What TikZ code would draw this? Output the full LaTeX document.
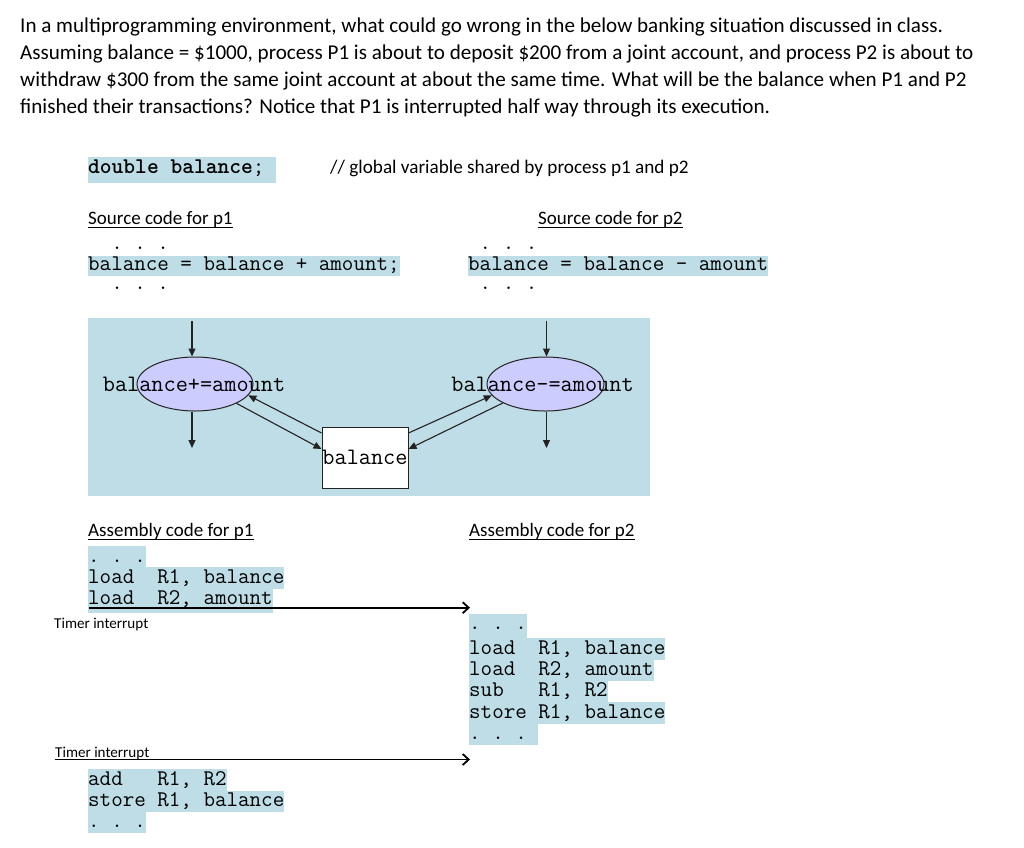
\documentclass[tikz,border=0pt]{standalone}
\usepackage{fontspec}
\setmainfont{Carlito}
\usetikzlibrary{arrows.meta,shapes.geometric}
\definecolor{hl}{RGB}{190,221,231}
\definecolor{lav}{RGB}{204,204,255}
\definecolor{ink}{RGB}{35,35,35}
\newcommand\ulx[1]{\setbox0=\hbox{#1}\rlap{\rule[-4pt]{\wd0}{1pt}}\box0}
\begin{document}
\begin{tikzpicture}[x=1pt,y=-1pt,
  hdr/.style={anchor=base west,inner sep=0pt,font=\fontsize{21.1}{27}\selectfont},
  lbl/.style={anchor=base west,inner sep=0pt,font=\fontsize{19}{22}\selectfont},
  tmr/.style={anchor=base west,inner sep=0pt,font=\fontsize{15.1}{17}\selectfont},
  code/.style={anchor=base west,inner sep=0pt,fill=hl,text height=16pt,text depth=5.3pt,font=\ttfamily\fontsize{22.4}{24}\selectfont\frenchspacing},
  plain/.style={anchor=base west,inner sep=0pt,font=\ttfamily\fontsize{22.4}{24}\selectfont\frenchspacing},
  dg/.style={inner sep=0pt,font=\ttfamily\fontsize{23.6}{25}\selectfont},
  ell/.style={ellipse,draw=ink,line width=1pt,fill=lav,inner sep=0pt},
  conn/.style={draw=ink,line width=1.1pt,-{Triangle[length=8pt,width=7pt]}},
  tarr/.style={draw=black,line width=1.8pt,-{Straight Barb[length=6pt,width=11pt]}}
]
\fill[white] (0,0) rectangle (1024,847);
\useasboundingbox (0,0) rectangle (1024,847);

% header
\node[hdr] (h1) at (20,32.5) {In a multiprogramming environment, what could go wrong in the below banking situation discussed in class.};
\node[hdr] (h2) at (20,59.5) {Assuming balance = \$1000, process P1 is about to deposit \$200 from a joint account, and process P2 is about to};
\node[hdr] (h3) at (20,86.5) {withdraw \$300 from the same joint account at about the same time. What will be the balance when P1 and P2};
\node[hdr] (h4) at (20,113.5) {finished their transactions? Notice that P1 is interrupted half way through its execution.};

% declaration
\node[code,text height=16pt,text depth=10pt] (dbl) at (88,173.3) {\textbf{double balance};\ \kern0pt};
\node[lbl,font=\fontsize{19.2}{22}\selectfont] (cmt) at (330,173.3) {// global variable shared by process p1 and p2};

% source code
\node[lbl] (src1) at (88,224) {\ulx{Source code for p1}};
\node[lbl] (src2) at (538,224) {\ulx{Source code for p2}};
\node[plain] (s1d1) at (88,249.5) {\ \ . . .};
\node[code,text height=14.7pt,text depth=5.3pt] (s1) at (88,270.7) {balance = balance + amount;};
\node[plain] (s1d2) at (88,289.5) {\ \ . . .};
\node[plain] (s2d1) at (468,249.5) {\ . . .};
\node[code,text height=14.7pt,text depth=5.3pt] (s2) at (468,270.7) {balance = balance – amount};
\node[plain] (s2d2) at (468,289.5) {\ . . .};

% diagram
\node[fill=hl,minimum width=562pt,minimum height=178pt,inner sep=0pt,anchor=north west] (panel) at (88,318) {};
\node[ell,minimum width=116pt,minimum height=54pt] (eL) at (195,384) {};
\node[ell,minimum width=117pt,minimum height=54pt] (eR) at (545.5,384) {};
\node[dg,anchor=base] (tL) at (194,391) {balance+=amount};
\node[dg,anchor=base] (tR) at (542.5,391) {balance-=amount};
\node[dg,draw=ink,line width=1pt,fill=white,minimum width=86pt,minimum height=61pt] (bal) at (365,457.5) {balance};

\coordinate (aL1) at (192,321);
\coordinate (aL2) at (192,448);
\coordinate (aR1) at (546.5,321);
\coordinate (aR2) at (546.5,448);
\draw[conn] (aL1) -- (aL1 |- eL.north);
\draw[conn] (aL1 |- eL.south) -- (aL2);
\draw[conn] (aR1) -- (aR1 |- eR.north);
\draw[conn] (aR1 |- eR.south) -- (aR2);
\draw[conn] (eL.-25) -- ([yshift=8.5pt]bal.west);
\draw[conn] ([yshift=24.5pt]bal.west) -- (eL.-12);
\draw[conn] ([yshift=24.5pt]bal.east) -- (eR.192);
\draw[conn] (eR.204) -- ([yshift=8.5pt]bal.east);

% assembly labels
\node[lbl] (asm1) at (88,536) {\ulx{Assembly code for p1}};
\node[lbl] (asm2) at (469,536) {\ulx{Assembly code for p2}};

% p1 assembly (first part)
\node[code] (a1d) at (88,562) {. . .};
\node[code] (a1r1) at (88,583.3) {load\ \ R1, balance};
\node[code,text depth=8pt] (a1r2) at (88,604.6) {load\ \ R2, amount};

% timer interrupt 1
\coordinate (t1s) at (89,607.7);
\coordinate (t1e) at (470,607.7);
\draw[tarr] (t1s) -- (t1e);
\node[tmr] (tm1) at (54,628.3) {Timer interrupt};

% p2 assembly
\node[code,text height=15.2pt,text depth=8.8pt] (a2d1) at (469,629.5) {. . .};
\node[code] (a2r1) at (469,654.3) {load\ \ R1, balance};
\node[code] (a2r2) at (469,675.6) {load\ \ R2, amount};
\node[code] (a2r3) at (469,696.9) {sub\ \ \ R1, R2};
\node[code] (a2r4) at (469,718.2) {store R1, balance};
\node[code] (a2d2) at (469,739.5) {. . .\ \kern0pt};

% timer interrupt 2
\coordinate (t2s) at (55,759.5);
\coordinate (t2e) at (470,759.5);
\draw[tarr] (t2s) -- (t2e);
\node[tmr] (tm2) at (55,757.3) {Timer interrupt};

% p1 assembly (second part)
\node[code] (a1r3) at (88,785.3) {add\ \ \ R1, R2};
\node[code] (a1r4) at (88,806.6) {store R1, balance};
\node[code] (a1d2) at (88,827.9) {. . .};
\end{tikzpicture}
\end{document}
